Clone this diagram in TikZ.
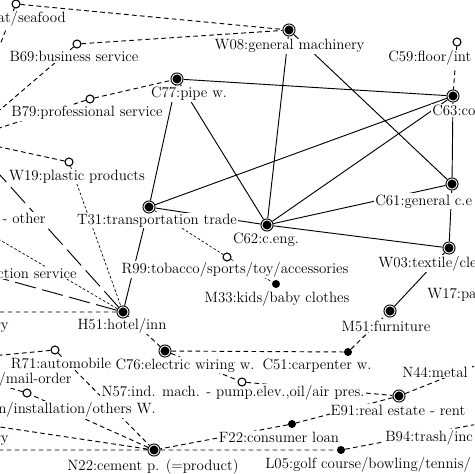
\documentclass[tikz,border=0pt]{standalone}
\pgfdeclarelayer{edges}
\pgfsetlayers{edges,main}
\begin{document}
\begin{tikzpicture}[x=0.75pt,y=-0.75pt,
  bnode/.style={circle, draw=black, fill=white, line width=0.7pt, minimum size=9.1pt, inner sep=0pt,
     path picture={\fill[black] (path picture bounding box.center) circle (3.4pt);}},
  onode/.style={circle, draw=black, fill=white, line width=0.8pt, minimum size=6pt, inner sep=0pt},
  fnode/.style={circle, fill=black, minimum size=6pt, inner sep=0pt},
  lbl/.style={fill=white, inner sep=0.8pt, font=\fontsize{11.2}{13}\selectfont},
  esol/.style={line width=0.7pt},
  edash/.style={line width=0.7pt, dash pattern=on 3.5pt off 2.5pt},
  efine/.style={line width=0.5pt, dash pattern=on 2pt off 1.5pt},
  elong/.style={line width=0.7pt, dash pattern=on 16pt off 5pt}]
\useasboundingbox (0,0) rectangle (474,474);
\clip (0,0) rectangle (474,474);
% labels
\node[lbl, anchor=base east] at (67,23) {at/seafood};
\node[lbl, anchor=base] at (289.5,50) {W08:general machinery};
\node[lbl, anchor=base] at (74,62) {B69:business service};
\node[lbl, anchor=base west] at (387,62) {C59:floor/int};
\node[lbl, anchor=base] at (189,98) {C77:pipe w.};
\node[lbl, anchor=base] at (87,117) {B79:professional service};
\node[lbl, anchor=base west] at (431,116) {C63:co};
\node[lbl, anchor=base] at (77,180) {W19:plastic products};
\node[lbl, anchor=base] at (157,224) {T31:transportation trade};
\node[lbl, anchor=base west] at (374,205) {C61:general c.e};
\node[lbl, anchor=base] at (266,243) {C62:c.eng.};
\node[lbl, anchor=base west] at (377,267) {W03:textile/cle};
\node[lbl, anchor=base] at (235,273) {R99:tobacco/sports/toy/accessories};
\node[lbl, anchor=base] at (277,302) {M33:kids/baby clothes};
\node[lbl, anchor=base west] at (426,298) {W17:pa};
\node[lbl, anchor=base east] at (47,223) {- other};
\node[lbl, anchor=base east] at (78,278) {ction service};
\node[lbl, anchor=base east] at (10,329) {ry};
\node[lbl, anchor=base] at (122,329) {H51:hotel/inn};
\node[lbl, anchor=base] at (386,331) {M51:furniture};
\node[lbl, anchor=base] at (185,369) {C76:electric wiring w.};
\node[lbl, anchor=base] at (317,369) {C51:carpenter w.};
\node[lbl, anchor=base] at (61,368) {R71:automobile};
\node[lbl, anchor=base east] at (73,383) {/mail-order};
\node[lbl, anchor=base west] at (401,377) {N44:metal};
\node[lbl, anchor=base] at (233,396) {N57:ind. mach. - pump.elev.,oil/air pres.};
\node[lbl, anchor=base east] at (157,413) {n/installation/others W.};
\node[lbl, anchor=base] at (398,415) {E91:real estate - rent};
\node[lbl, anchor=base east] at (10,442) {ry};
\node[lbl, anchor=base] at (279,442) {F22:consumer loan};
\node[lbl, anchor=base west] at (384,441) {B94:trash/inc};
\node[lbl, anchor=base] at (153,470) {N22:cement p. (=product)};
\node[lbl, anchor=base west] at (264,468) {L05:golf course/bowling/tennis/};
% nodes
\node[onode] (tl) at (16,4) {};
\node[bnode] (w08) at (289,30) {};
\node[onode] (b69) at (77,44) {};
\node[onode] (c59) at (457,42) {};
\node[bnode] (c77) at (177,79) {};
\node[onode] (b79) at (90,99) {};
\node[bnode] (c63) at (453,96) {};
\node[onode] (w19) at (69,162) {};
\node[bnode] (t31) at (149,207) {};
\node[bnode] (c61) at (452,184) {};
\node[bnode] (c62) at (267,225) {};
\node[bnode] (w03) at (449,248) {};
\node[onode] (r99) at (227,257) {};
\node[fnode] (m33) at (276,284) {};
\node[bnode] (h51) at (123,312) {};
\node[bnode] (m51) at (390,311) {};
\node[bnode] (c76) at (165,351) {};
\node[fnode] (c51) at (348,352) {};
\node[onode] (r71) at (55,350) {};
\node[onode] (n57) at (242,382) {};
\node[onode] (ins) at (27,393) {};
\node[bnode] (e91) at (399,396) {};
\node[fnode] (f22) at (292,424) {};
\node[bnode] (n22) at (154,450) {};
\node[fnode] (l05) at (341,450) {};
% free ends outside the frame
\coordinate (otl) at (-24,106);
\coordinate (ob69) at (-40,144);
\coordinate (ob79) at (-60,147);
\coordinate (ow19) at (-60,134);
\coordinate (oh1) at (-40,130.5);
\coordinate (oh2) at (-40,216.6);
\coordinate (oh3) at (-40,267);
\coordinate (oh4) at (-40,312);
\coordinate (on44) at (520,348);
\coordinate (ob94) at (520,416);
\coordinate (on22a) at (-40,450);
\coordinate (on22b) at (-40,421);
\coordinate (oins) at (-40,373);
\coordinate (or71) at (-40,359);
\begin{pgfonlayer}{edges}
\fill[white] (0,0) rectangle (474,474);
\clip (0,0) rectangle (474,474);
\draw[esol] (c77)--(c63) (c77)--(t31) (c77)--(c62) (w08)--(c62) (w08)--(c61)
  (t31)--(c63) (t31)--(c62) (c62)--(c63) (c62)--(c61) (c62)--(w03)
  (c63)--(c61) (c61)--(w03) (w03)--(m51) (t31)--(h51);
\draw[edash] (tl)--(w08) (tl)--(otl) (b69)--(w08) (b69)--(ob69) (b79)--(c77) (b79)--(ob79)
  (w19)--(ow19) (c59)--(c63) (h51)--(oh4) (h51)--(c76) (c76)--(c51) (c51)--(m51)
  (c76)--(n57) (n57)--(e91) (e91)--(f22) (e91)--(on44) (f22)--(n22) (n22)--(l05)
  (l05)--(ob94) (n22)--(on22a) (n22)--(on22b) (n22)--(ins) (ins)--(oins)
  (r71)--(n22) (r71)--(or71);
\draw[efine] (w19)--(h51) (t31)--(r99) (r99)--(m33) (h51)--(oh2);
\draw[elong] (h51)--(oh1) (h51)--(oh3);
\end{pgfonlayer}
\end{tikzpicture}
\end{document}
